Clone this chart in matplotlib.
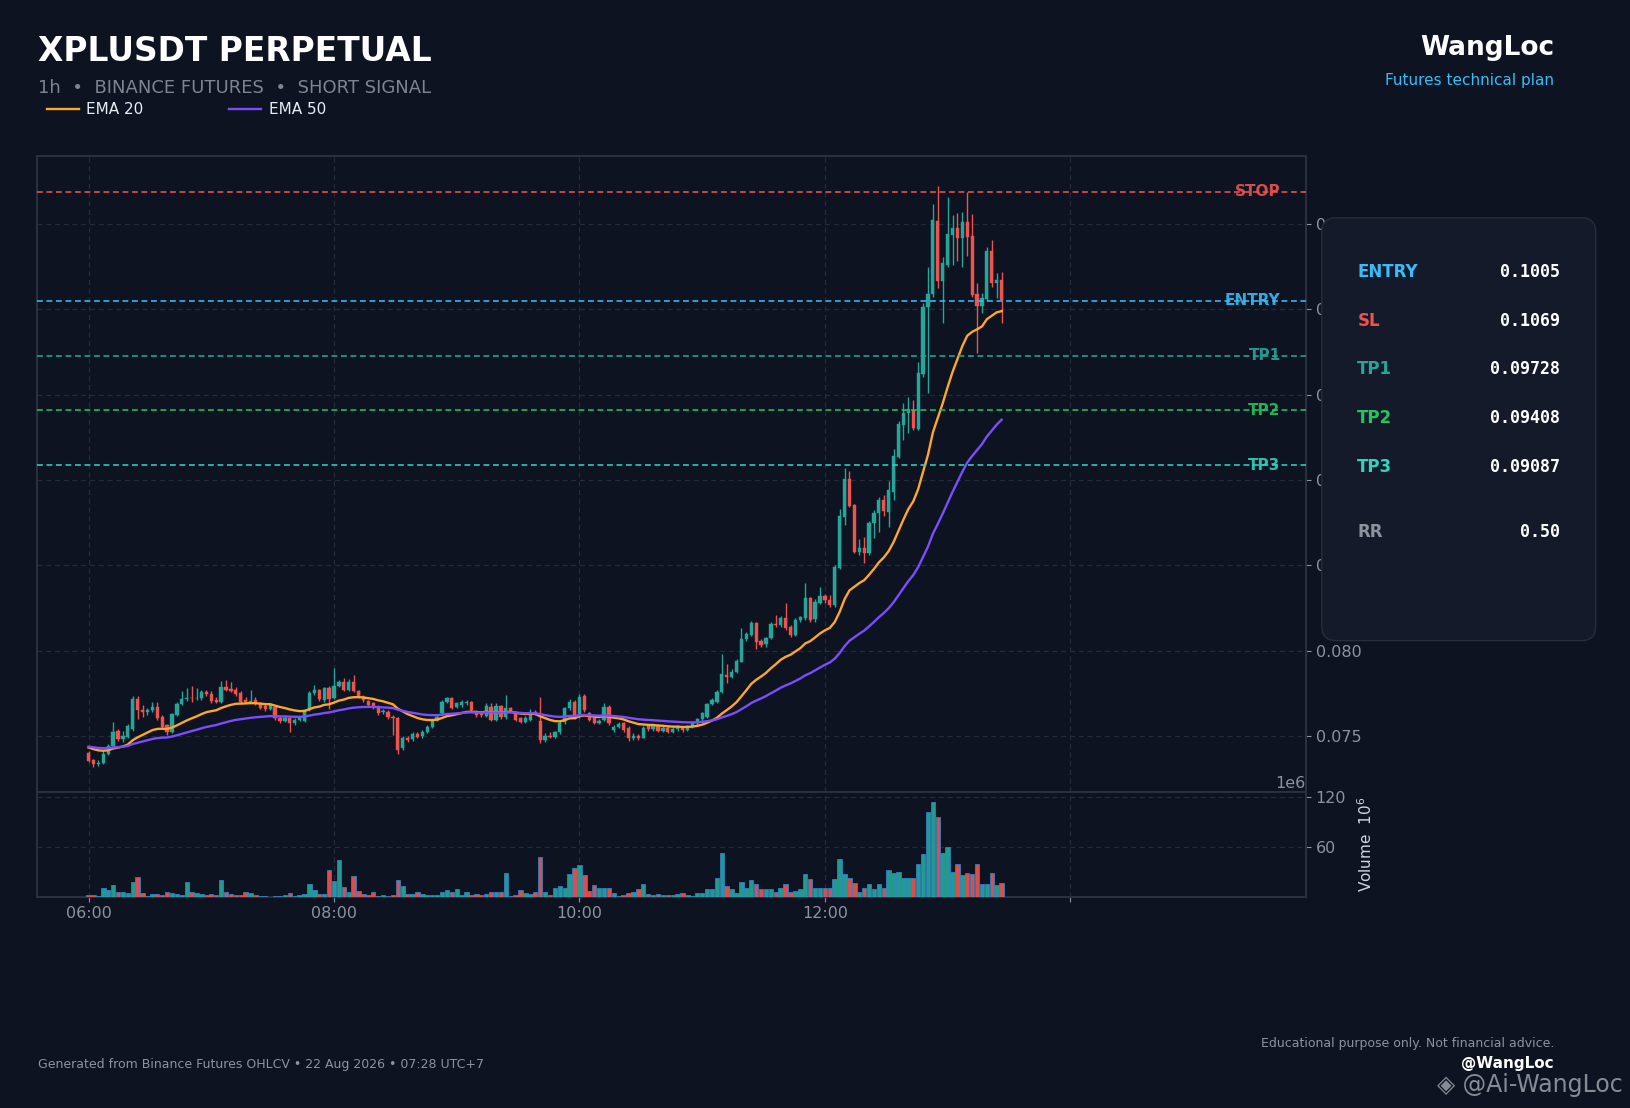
import numpy as np
import pandas as pd
import matplotlib
matplotlib.use("Agg")
import matplotlib.pyplot as plt
from matplotlib.patches import FancyBboxPatch
from matplotlib.transforms import blended_transform_factory

# ---------------- data ----------------
opens = [
    .07400, .07357, .07334, .07343, .07395, .07441, .07528, .07480, .07495, .07540,
    .07716, .07650, .07640, .07651, .07671, .07612, .07563, .07524, .07622, .07685,
    .07716, .07724, .07720, .07720, .07755, .07745, .07712, .07700, .07788, .07772,
    .07767, .07749, .07710, .07700, .07712, .07690, .07676, .07657, .07671, .07607,
    .07588, .07607, .07578, .07593, .07590, .07651, .07749, .07769, .07710, .07778,
    .07720, .07793, .07817, .07769, .07817, .07763, .07730, .07705, .07690, .07671,
    .07637, .07642, .07612, .07602, .07430, .07490, .07480, .07510, .07500, .07524,
    .07554, .07593, .07632, .07700, .07720, .07671, .07681, .07690, .07700, .07642,
    .07632, .07618, .07671, .07593, .07675, .07608, .07661, .07636, .07602, .07583,
    .07593, .07641, .07590, .07476, .07500, .07495, .07520, .07580, .07661, .07700,
    .07612, .07735, .07632, .07602, .07578, .07593, .07671, .07534, .07554, .07573,
    .07544, .07485, .07500, .07490, .07560, .07540, .07560, .07530, .07545, .07525,
    .07540, .07550, .07535, .07555, .07573, .07598, .07612, .07686, .07700, .07758,
    .07856, .07846, .07876, .07935, .08065, .08090, .08163, .08057, .08040, .08071,
    .08155, .08149, .08188, .08140, .08091, .08179, .08188, .08306, .08185, .08280,
    .08320, .08296, .08267, .08486, .08785, .09005, .08853, .08579, .08599, .08574,
    .08746, .08804, .08882, .08814, .08931, .09136, .09322, .09390, .09410, .09297,
    .09621, .10016, .10090, .10520, .10166, .10260, .10436, .10475, .10420, .10514,
    .10430, .10090, .10020, .10058, .10344, .10156, .10172,
]
highs = [
    .07410, .07365, .07360, .07420, .07455, .07583, .07540, .07530, .07570, .07735,
    .07735, .07680, .07665, .07700, .07700, .07620, .07570, .07635, .07700, .07760,
    .07780, .07790, .07780, .07770, .07770, .07760, .07725, .07822, .07830, .07815,
    .07785, .07760, .07725, .07768, .07725, .07700, .07690, .07690, .07680, .07615,
    .07620, .07612, .07605, .07618, .07660, .07765, .07798, .07775, .07785, .07790,
    .07896, .07830, .07840, .07835, .07856, .07770, .07740, .07712, .07700, .07680,
    .07655, .07650, .07620, .07610, .07500, .07500, .07520, .07520, .07535, .07565,
    .07600, .07622, .07710, .07730, .07728, .07700, .07710, .07708, .07705, .07650,
    .07640, .07690, .07690, .07690, .07680, .07739, .07670, .07645, .07610, .07615,
    .07655, .07650, .07729, .07515, .07520, .07530, .07590, .07670, .07715, .07710,
    .07745, .07745, .07640, .07610, .07600, .07690, .07680, .07565, .07580, .07580,
    .07555, .07515, .07510, .07560, .07570, .07570, .07570, .07555, .07555, .07555,
    .07565, .07560, .07565, .07580, .07605, .07640, .07695, .07720, .07770, .07977,
    .07920, .07890, .07950, .08130, .08110, .08175, .08170, .08065, .08080, .08170,
    .08208, .08200, .08280, .08150, .08190, .08205, .08394, .08315, .08300, .08374,
    .08330, .08325, .08500, .08830, .09068, .09054, .08860, .08652, .08663, .08760,
    .08824, .08902, .08912, .08993, .09179, .09347, .09449, .09488, .09468, .09693,
    .10035, .10246, .10617, .10723, .10305, .10656, .10553, .10567, .10572, .10690,
    .10559, .10156, .10098, .10363, .10406, .10211, .10221,
]
lows = [
    .07345, .07320, .07322, .07335, .07385, .07430, .07470, .07465, .07485, .07530,
    .07600, .07610, .07625, .07640, .07595, .07540, .07505, .07515, .07615, .07680,
    .07705, .07700, .07710, .07712, .07735, .07690, .07690, .07695, .07760, .07755,
    .07735, .07690, .07690, .07695, .07680, .07655, .07645, .07650, .07595, .07578,
    .07580, .07524, .07565, .07585, .07580, .07645, .07740, .07705, .07700, .07660,
    .07715, .07785, .07760, .07762, .07755, .07720, .07700, .07672, .07660, .07620,
    .07630, .07600, .07505, .07395, .07420, .07465, .07470, .07485, .07490, .07515,
    .07545, .07585, .07625, .07690, .07655, .07662, .07672, .07682, .07640, .07610,
    .07610, .07610, .07585, .07585, .07600, .07600, .07640, .07585, .07575, .07575,
    .07585, .07620, .07460, .07465, .07485, .07485, .07510, .07570, .07650, .07600,
    .07605, .07640, .07585, .07570, .07570, .07585, .07565, .07520, .07545, .07520,
    .07470, .07475, .07478, .07485, .07530, .07530, .07520, .07520, .07515, .07515,
    .07530, .07525, .07528, .07548, .07565, .07590, .07605, .07680, .07695, .07750,
    .07808, .07840, .07870, .07930, .08055, .08085, .08007, .08020, .08020, .08065,
    .08140, .08140, .08120, .08080, .08085, .08170, .08180, .08170, .08170, .08270,
    .08280, .08255, .08255, .08480, .08736, .08840, .08570, .08560, .08511, .08560,
    .08658, .08697, .08789, .08726, .08882, .09130, .09234, .09273, .09290, .09290,
    .09605, .09512, .10074, .10123, .09922, .10250, .10260, .10285, .10246, .10313,
    .10070, .09746, .09980, .10050, .10133, .10064, .09922,
]
closes = [
    .07355, .07334, .07343, .07393, .07441, .07525, .07480, .07499, .07560, .07716,
    .07650, .07641, .07650, .07671, .07606, .07554, .07524, .07627, .07685, .07716,
    .07724, .07720, .07722, .07755, .07745, .07704, .07698, .07788, .07769, .07765,
    .07744, .07700, .07700, .07706, .07690, .07666, .07657, .07680, .07602, .07588,
    .07607, .07578, .07593, .07607, .07652, .07753, .07770, .07716, .07778, .07716,
    .07793, .07817, .07769, .07817, .07763, .07730, .07710, .07681, .07671, .07632,
    .07647, .07612, .07602, .07415, .07490, .07478, .07510, .07495, .07524, .07554,
    .07593, .07612, .07700, .07720, .07665, .07690, .07700, .07700, .07651, .07622,
    .07622, .07675, .07593, .07675, .07608, .07661, .07648, .07593, .07583, .07602,
    .07641, .07628, .07476, .07500, .07495, .07520, .07573, .07661, .07700, .07612,
    .07730, .07651, .07593, .07578, .07588, .07671, .07573, .07554, .07567, .07534,
    .07485, .07500, .07490, .07544, .07540, .07560, .07530, .07545, .07525, .07540,
    .07550, .07535, .07555, .07573, .07598, .07632, .07686, .07710, .07758, .07862,
    .07846, .07876, .07940, .08065, .08096, .08163, .08052, .08030, .08071, .08155,
    .08149, .08188, .08130, .08091, .08179, .08195, .08306, .08179, .08286, .08320,
    .08294, .08267, .08492, .08789, .09005, .08847, .08579, .08599, .08574, .08746,
    .08804, .08882, .08818, .08941, .09140, .09328, .09390, .09414, .09302, .09625,
    .10016, .10090, .10524, .10166, .10270, .10442, .10475, .10420, .10514, .10426,
    .10084, .10020, .10064, .10344, .10156, .10172, .10055,
]
volumes_m = [
    1.6, 1.6, 0.4, 10, 7.6, 13.6, 6, 6, 4.8, 17.2,
    23.2, 4.8, 0.4, 2.8, 2.8, 2, 6, 4.8, 3.6, 2.4,
    17.2, 6, 4.8, 3.6, 2.4, 3.6, 2.4, 19.6, 6, 3.6,
    2.4, 2.4, 6, 4.8, 2.4, 0.4, 0.4, 0.2, 0.4, 0.4,
    1.6, 4.8, 1.2, 2.4, 3.6, 14.8, 7.6, 3.6, 3.6, 31.6,
    18.4, 43.6, 11.2, 5.2, 24.4, 6.4, 3.6, 2.4, 5.2, 1.2,
    1.6, 0.4, 1.6, 19.6, 12.4, 3.6, 3.6, 5.2, 3.6, 2.4,
    1.6, 1.6, 5.2, 7.6, 6, 8.8, 2.4, 6, 2.4, 3.6,
    1.6, 2.8, 6, 5.2, 6, 28, 0.4, 1.6, 7.6, 4,
    2.8, 5.2, 47.2, 6, 2, 10, 13, 11, 27, 35,
    38, 26, 7, 14, 10, 11, 10, 4, 1, 2,
    5, 6, 9, 15, 3, 2, 3, 2, 2, 2,
    3, 4, 2, 1, 5, 4, 9, 9, 22, 52,
    13, 9, 5, 18, 11, 20, 15, 9, 9, 9,
    6, 10, 15, 6, 7, 9, 27, 21, 11, 10,
    10, 10, 21, 45, 27, 22, 16, 6, 10, 15,
    9, 15, 10, 32, 28, 30, 23, 22, 22, 39,
    51, 102, 114, 96, 52, 60, 30, 39, 26, 29,
    27, 39, 15, 15, 29, 14, 16,
]
ema20_start = 0.0744
ema50_start = 0.0744

x_tick_pos = [0, 50, 100, 150, 200]
x_tick_labels = ["06:00", "08:00", "10:00", "12:00", ""]

level_names = ["STOP", "ENTRY", "TP1", "TP2", "TP3"]
level_values = [0.1069, 0.1005, 0.09728, 0.09408, 0.09087]

panel_labels = ["ENTRY", "SL", "TP1", "TP2", "TP3", "RR"]
panel_values = ["0.1005", "0.1069", "0.09728", "0.09408", "0.09087", "0.50"]

# ---------------- style ----------------
BG = "#0d1320"
GRID = "#242b3a"
SPINE = "#2a3141"
TICK = "#8b949e"
UP = "#26a69a"
DN = "#ef5350"
C_STOP = "#ef5350"
C_ENTRY = "#38bdf8"
C_TP1 = "#26a69a"
C_TP2 = "#22c55e"
C_TP3 = "#2dd4bf"
level_colors = [C_STOP, C_ENTRY, C_TP1, C_TP2, C_TP3]
panel_colors = [C_ENTRY, C_STOP, C_TP1, C_TP2, C_TP3, TICK]

plt.rcParams["font.family"] = ["DejaVu Sans"]

o = np.array(opens); h = np.array(highs); l = np.array(lows); c = np.array(closes)
vol = np.array(volumes_m) * 1e6
x = np.arange(len(c))
up = c >= o
cols = np.where(up, UP, DN)

ema20 = pd.Series([ema20_start] + list(c)).ewm(span=20, adjust=False).mean().values[1:]
ema50 = pd.Series([ema50_start] + list(c)).ewm(span=50, adjust=False).mean().values[1:]

fig = plt.figure(figsize=(16.31, 11.08), dpi=100, facecolor=BG)
ax = fig.add_axes([0.0227, 0.2849, 0.778, 0.5739], facecolor=BG)
axv = fig.add_axes([0.0227, 0.1907, 0.778, 0.0942], facecolor=BG, sharex=ax)

# candles
ax.vlines(x, l, h, colors=cols, linewidth=1.0, zorder=2)
body_bottom = np.minimum(o, c)
body_h = np.maximum(np.abs(c - o), 0.00003)
ax.bar(x, body_h, bottom=body_bottom, width=0.66, color=cols, edgecolor=cols,
       linewidth=0.3, zorder=3)

l20, = ax.plot(x, ema20, color="#ffa726", lw=1.7, zorder=4, label="EMA 20")
l50, = ax.plot(x, ema50, color="#7c4dff", lw=1.7, zorder=4, label="EMA 50")

trans = blended_transform_factory(ax.transAxes, ax.transData)
for name, val, col in zip(level_names, level_values, level_colors):
    ax.axhline(val, color=col, lw=1.2, ls=(0, (3.5, 2.2)), zorder=5, alpha=0.95)
    ax.text(0.98, val, name, transform=trans, ha="right", va="center",
            color=col, fontsize=11, fontweight="bold", zorder=6, alpha=0.9)

ax.set_xlim(-10.5, 248)
ax.set_ylim(0.07169, 0.10896)
ax.set_yticks(np.arange(0.075, 0.1051, 0.005))
ax.yaxis.set_major_formatter(matplotlib.ticker.FormatStrFormatter("%.3f"))
ax.yaxis.tick_right()
ax.set_xticks(x_tick_pos)
ax.tick_params(axis="x", which="both", bottom=False, labelbottom=False)
ax.tick_params(axis="y", colors=TICK, labelsize=11.5, length=3.5)
ax.grid(True, color=GRID, ls=(0, (4, 3)), lw=0.9)
ax.set_axisbelow(True)

# volume
axv.bar(x, vol, width=0.9, color=cols, edgecolor="#2f86c9", linewidth=0.6,
        alpha=0.92, zorder=3)
axv.set_ylim(0, vol.max() * 1.1)
axv.set_yticks([60e6, 120e6])
axv.yaxis.tick_right()
axv.ticklabel_format(axis="y", style="sci", scilimits=(6, 6))
axv.yaxis.get_offset_text().set_color(TICK)
axv.yaxis.get_offset_text().set_fontsize(11.5)
axv.yaxis.set_label_position("right")
axv.set_ylabel("Volume  $10^6$", color="#d0d7de", fontsize=11, labelpad=7)
axv.set_xticks(x_tick_pos)
axv.set_xticklabels(x_tick_labels)
axv.tick_params(axis="both", colors=TICK, labelsize=11.5, length=3.5)
axv.grid(True, color=GRID, ls=(0, (4, 3)), lw=0.9)
axv.set_axisbelow(True)

for a in (ax, axv):
    for s in a.spines.values():
        s.set_color(SPINE)
        s.set_linewidth(1.4)

# header
fig.text(0.023, 0.9449, "XPLUSDT PERPETUAL", color="white", fontsize=23.7,
         fontweight="bold", va="baseline")
fig.text(0.023, 0.9161, "1h  \u2022  BINANCE FUTURES  \u2022  SHORT SIGNAL",
         color="#7d8590", fontsize=13, va="baseline")
fig.text(0.9528, 0.9504, "WangLoc", color="white", fontsize=19,
         fontweight="bold", ha="right", va="baseline")
fig.text(0.9528, 0.9233, "Futures technical plan", color=C_ENTRY, fontsize=11,
         ha="right", va="baseline")

fig.legend(handles=[l20, l50], loc="upper left", bbox_to_anchor=(0.0286, 0.9075),
           ncol=2, frameon=False, fontsize=11, handlelength=2.1,
           handletextpad=0.5, columnspacing=5.6, borderpad=0, borderaxespad=0,
           labelcolor="#e6edf3")

# info panel
px0, px1, py0, py1 = 0.8104, 0.9784, 0.4218, 0.8035
panel = FancyBboxPatch((px0, py0), px1 - px0, py1 - py0,
                       boxstyle="round,pad=0,rounding_size=0.009",
                       mutation_aspect=1631 / 1108,
                       transform=fig.transFigure, facecolor="#141a29",
                       edgecolor="#262d3c", linewidth=1.0, zorder=1)
fig.add_artist(panel)
row_y = [0.7497, 0.7058, 0.6622, 0.6182, 0.5743, 0.5156]
for lab, val, col, yy in zip(panel_labels, panel_values, panel_colors, row_y):
    fig.text(0.8322, yy, lab, color=col, fontsize=12, fontweight="bold",
             va="baseline", zorder=4)
    fig.text(0.9565, yy, val, color="white", fontsize=12, fontweight="bold",
             family="DejaVu Sans Mono", ha="right", va="baseline", zorder=4)

# footer
fig.text(0.023, 0.0361,
         "Generated from Binance Futures OHLCV \u2022 22 Aug 2026 \u2022 07:28 UTC+7",
         color="#8b949e", fontsize=9, va="baseline")
fig.text(0.9528, 0.0553, "Educational purpose only. Not financial advice.",
         color="#8b949e", fontsize=9, ha="right", va="baseline")
fig.text(0.9528, 0.0361, "@WangLoc", color="white", fontsize=11,
         fontweight="bold", ha="right", va="baseline")
fig.text(0.995, 0.0147, "\u25c8 @Ai-WangLoc", color="#d8dce3", alpha=0.6,
         fontsize=17, ha="right", va="baseline")

fig.savefig("out.png", dpi=100, facecolor=BG)
